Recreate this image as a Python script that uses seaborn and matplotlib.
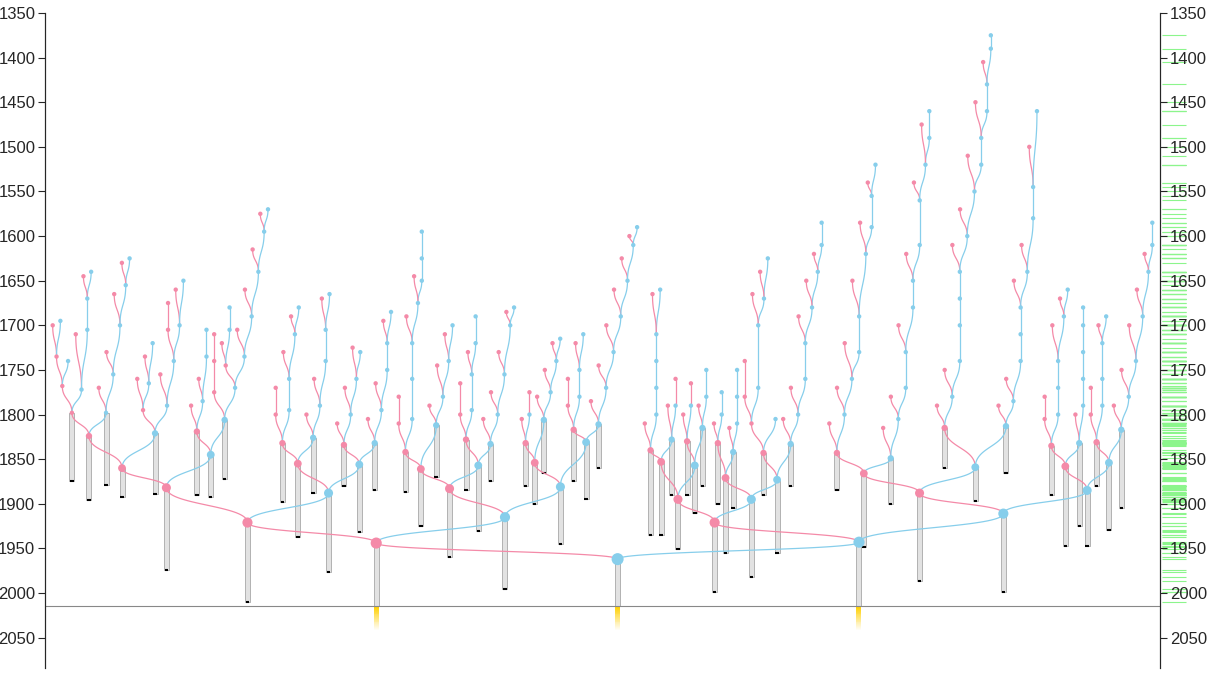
import numpy as np
import pandas as pd
import matplotlib
matplotlib.use('Agg')
import matplotlib.pyplot as plt
import seaborn as sns

# ancestry path from the root: M = mother, F = father ; value = birth year
births = {
    '': 1962, 'M': 1944, 'F': 1943,
    'MM': 1921, 'MF': 1915, 'FM': 1921, 'FF': 1911,
    'MMM': 1882, 'MMF': 1888, 'MFM': 1883, 'MFF': 1881,
    'FMM': 1895, 'FMF': 1895, 'FFM': 1888, 'FFF': 1885,
    'MMMM': 1860, 'MMMF': 1845, 'MMFM': 1855, 'MMFF': 1856,
    'MFMM': 1861, 'MFMF': 1857, 'MFFM': 1854, 'MFFF': 1831,
    'FMMM': 1853, 'FMMF': 1857, 'FMFM': 1871, 'FMFF': 1873,
    'FFMM': 1866, 'FFMF': 1859, 'FFFM': 1858, 'FFFF': 1854,
    'MMMMM': 1824, 'MMMMF': 1821, 'MMMFM': 1819, 'MMMFF': 1806,
    'MMFMM': 1832, 'MMFMF': 1826, 'MMFFM': 1834, 'MMFFF': 1832,
    'MFMMM': 1842, 'MFMMF': 1812, 'MFMFM': 1828, 'MFMFF': 1833,
    'MFFMM': 1832, 'MFFMF': 1806, 'MFFFM': 1817, 'MFFFF': 1811,
    'FMMMM': 1840, 'FMMMF': 1828, 'FMMFM': 1830, 'FMMFF': 1815,
    'FMFMM': 1832, 'FMFMF': 1842, 'FMFFM': 1843, 'FMFFF': 1833,
    'FFMMM': 1843, 'FFMMF': 1849, 'FFMFM': 1815, 'FFMFF': 1813,
    'FFFMM': 1835, 'FFFMF': 1832, 'FFFFM': 1831, 'FFFFF': 1817,
    # region MMMM
    'MMMMMM': 1798, 'MMMMMMM': 1768, 'MMMMMMF': 1772, 'MMMMMMMM': 1735, 'MMMMMMMF': 1740,
    'MMMMMMFM': 1710, 'MMMMMMFF': 1705, 'MMMMMMMMM': 1700, 'MMMMMMMMF': 1695,
    'MMMMMMFFF': 1670, 'MMMMMMFFFF': 1640, 'MMMMMMFFFM': 1645,
    'MMMMMF': 1798, 'MMMMMFM': 1770, 'MMMMMFF': 1755, 'MMMMMFFM': 1730, 'MMMMMFFF': 1700,
    'MMMMMFFFM': 1665, 'MMMMMFFFF': 1655, 'MMMMMFFFFF': 1625, 'MMMMMFFFFM': 1630,
    'MMMMFM': 1795, 'MMMMFF': 1790, 'MMMMFMM': 1760, 'MMMMFMF': 1765, 'MMMMFFM': 1755,
    'MMMMFFF': 1740, 'MMMMFFFM': 1705, 'MMMMFFFF': 1700, 'MMMMFFFFM': 1660, 'MMMMFFFFF': 1650,
    'MMMMFFFMM': 1675, 'MMMMFMFM': 1735, 'MMMMFMFF': 1720,
    # region MMMF
    'MMMFFM': 1775, 'MMMFFF': 1770, 'MMMFFFM': 1745, 'MMMFFFF': 1735, 'MMMFFFFM': 1705,
    'MMMFFFFF': 1690, 'MMMFFFFFM': 1660, 'MMMFFFFFF': 1640, 'MMMFFFFFFM': 1615,
    'MMMFFFFFFF': 1595, 'MMMFFFFFFFM': 1575, 'MMMFFFFFFFF': 1570, 'MMMFFFMM': 1720,
    'MMMFFFMF': 1705, 'MMMFFFMFF': 1680, 'MMMFFMM': 1740, 'MMMFFMMM': 1710,
    'MMMFMM': 1790, 'MMMFMF': 1785, 'MMMFMFM': 1760, 'MMMFMFF': 1735, 'MMMFMFFF': 1705,
    # region MMF
    'MMFMMM': 1800, 'MMFMMF': 1795, 'MMFMMMM': 1770, 'MMFMMFF': 1760, 'MMFMMFFM': 1730,
    'MMFMMFFF': 1710, 'MMFMMFFFF': 1680, 'MMFMMFFFM': 1690, 'MMFMFM': 1800, 'MMFMFF': 1790,
    'MMFMFFM': 1760, 'MMFMFFF': 1740, 'MMFMFFFF': 1705, 'MMFMFFFFM': 1670, 'MMFMFFFFF': 1665,
    'MMFFMM': 1810, 'MMFFMF': 1800, 'MMFFMFM': 1770, 'MMFFMFF': 1760, 'MMFFMFFF': 1730,
    'MMFFMFFM': 1725, 'MMFFFM': 1805, 'MMFFFF': 1795, 'MMFFFFM': 1765, 'MMFFFFF': 1750,
    'MMFFFFFF': 1720, 'MMFFFFFFM': 1695, 'MMFFFFFFF': 1685,
    # region MF
    'MFMMMM': 1810, 'MFMMMF': 1805, 'MFMMMMM': 1780, 'MFMMMFF': 1760, 'MFMMMFFF': 1720,
    'MFMMMFFFM': 1690, 'MFMMMFFFF': 1675, 'MFMMMFFFFF': 1650, 'MFMMMFFFFM': 1645,
    'MFMMMFFFFFF': 1625, 'MFMMMFFFFFFF': 1595,
    'MFMMFM': 1790, 'MFMMFF': 1780, 'MFMMFFM': 1745, 'MFMMFFF': 1740, 'MFMMFFFM': 1710,
    'MFMMFFFF': 1700,
    'MFMFMM': 1800, 'MFMFMF': 1795, 'MFMFMMM': 1765, 'MFMFMFF': 1755, 'MFMFMFFM': 1730,
    'MFMFMFFF': 1720, 'MFMFMFFFF': 1690, 'MFMFFM': 1805, 'MFMFFF': 1800, 'MFMFFFM': 1775,
    'MFMFFFF': 1755, 'MFMFFFFM': 1730, 'MFMFFFFF': 1700, 'MFMFFFFFM': 1685, 'MFMFFFFFF': 1680,
    'MFFMMM': 1805, 'MFFMMF': 1800, 'MFFMMFM': 1775, 'MFFMFM': 1780, 'MFFMFF': 1775,
    'MFFMFFM': 1750, 'MFFMFFF': 1740, 'MFFMFFFM': 1720, 'MFFMFFFF': 1715,
    'MFFFMM': 1790, 'MFFFMF': 1780, 'MFFFMMM': 1760, 'MFFFMFF': 1750, 'MFFFMFFM': 1720,
    'MFFFMFFF': 1710, 'MFFFFM': 1785, 'MFFFFF': 1770, 'MFFFFFM': 1745, 'MFFFFFF': 1730,
    'MFFFFFFM': 1700, 'MFFFFFFF': 1690, 'MFFFFFFFM': 1660, 'MFFFFFFFF': 1650,
    'MFFFFFFFFM': 1625, 'MFFFFFFFFF': 1610, 'MFFFFFFFFFM': 1600, 'MFFFFFFFFFF': 1590,
    # region FM
    'FMMMMM': 1810, 'FMMMMF': 1800, 'FMMMMFF': 1770, 'FMMMMFFF': 1740, 'FMMMMFFFF': 1710,
    'FMMMMFFFFF': 1660, 'FMMMMFFFFM': 1665, 'FMMMFM': 1790, 'FMMMFF': 1790, 'FMMMFFM': 1760,
    'FMMFMM': 1800, 'FMMFMF': 1790, 'FMMFMFM': 1765, 'FMMFFM': 1790, 'FMMFFF': 1780,
    'FMMFFFF': 1750,
    'FMFMMM': 1810, 'FMFMMF': 1800, 'FMFMMFF': 1775, 'FMFMFM': 1815, 'FMFMFF': 1810,
    'FMFMFFF': 1780, 'FMFMFFFF': 1750,
    'FMFFMM': 1810, 'FMFFMF': 1805, 'FMFFMMM': 1780, 'FMFFMMF': 1770, 'FMFFMMMM': 1740,
    'FMFFMMFF': 1700, 'FMFFMMFFF': 1670, 'FMFFMMFFM': 1665, 'FMFFMMFFFF': 1625,
    'FMFFMMFFFM': 1640, 'FMFFFM': 1805, 'FMFFFF': 1800, 'FMFFFFM': 1770, 'FMFFFFF': 1760,
    'FMFFFFFF': 1720, 'FMFFFFFFM': 1690, 'FMFFFFFFF': 1680, 'FMFFFFFFFF': 1640,
    'FMFFFFFFFM': 1650, 'FMFFFFFFFFF': 1610, 'FMFFFFFFFFM': 1620, 'FMFFFFFFFFFF': 1585,
    # region FF
    'FFMMMM': 1810, 'FFMMMF': 1800, 'FFMMMFM': 1770, 'FFMMMFF': 1760, 'FFMMMFFF': 1730,
    'FFMMMFFM': 1720, 'FFMMMFFFF': 1690, 'FFMMMFFFFM': 1650, 'FFMMMFFFFF': 1620,
    'FFMMMFFFFFF': 1590, 'FFMMMFFFFFM': 1585, 'FFMMMFFFFFFF': 1555, 'FFMMMFFFFFFFM': 1540,
    'FFMMMFFFFFFFF': 1520, 'FFMMFM': 1815, 'FFMMFF': 1805, 'FFMMFFM': 1780, 'FFMMFFF': 1770,
    'FFMMFFFF': 1730, 'FFMMFFFFM': 1700, 'FFMMFFFFF': 1680, 'FFMMFFFFFF': 1650,
    'FFMMFFFFFFM': 1620, 'FFMMFFFFFFF': 1610, 'FFMMFFFFFFFF': 1560, 'FFMMFFFFFFFFM': 1540,
    'FFMMFFFFFFFFF': 1520, 'FFMMFFFFFFFFFF': 1490, 'FFMMFFFFFFFFFM': 1475,
    'FFMMFFFFFFFFFFF': 1460,
    'FFMFMM': 1790, 'FFMFMF': 1780, 'FFMFMFM': 1750, 'FFMFMFF': 1740, 'FFMFMFFF': 1700,
    'FFMFMFFFF': 1670, 'FFMFMFFFFF': 1640, 'FFMFMFFFFFM': 1610, 'FFMFMFFFFFF': 1600,
    'FFMFMFFFFFFM': 1570, 'FFMFMFFFFFFF': 1550, 'FFMFMFFFFFFFF': 1520, 'FFMFMFFFFFFFM': 1510,
    'FFMFMFFFFFFFFF': 1490, 'FFMFMFFFFFFFFFF': 1460, 'FFMFMFFFFFFFFFM': 1450,
    'FFMFMFFFFFFFFFFF': 1430, 'FFMFMFFFFFFFFFFFM': 1405, 'FFMFMFFFFFFFFFFFF': 1390,
    'FFMFMFFFFFFFFFFFFF': 1375,
    'FFMFFM': 1790, 'FFMFFF': 1785, 'FFMFFFM': 1760, 'FFMFFFF': 1740, 'FFMFFFFF': 1710,
    'FFMFFFFFF': 1680, 'FFMFFFFFFM': 1650, 'FFMFFFFFFF': 1640, 'FFMFFFFFFFM': 1610,
    'FFMFFFFFFFF': 1580, 'FFMFFFFFFFFF': 1545, 'FFMFFFFFFFFFM': 1500, 'FFMFFFFFFFFFF': 1460,
    'FFFMMM': 1805, 'FFFMMF': 1800, 'FFFMMMM': 1780, 'FFFMMFF': 1770, 'FFFMMFFF': 1740,
    'FFFMMFFFM': 1700, 'FFFMMFFFF': 1690, 'FFFMMFFFFF': 1660, 'FFFMMFFFFM': 1670,
    'FFFMFM': 1800, 'FFFMFF': 1790, 'FFFMFFF': 1760, 'FFFMFFFF': 1730, 'FFFMFFFFF': 1700,
    'FFFMFFFFFF': 1680,
    'FFFFMM': 1800, 'FFFFMF': 1790, 'FFFFMMM': 1770, 'FFFFMFF': 1760, 'FFFFMFFF': 1720,
    'FFFFMFFFM': 1700, 'FFFFMFFFF': 1690, 'FFFFFM': 1790, 'FFFFFF': 1780, 'FFFFFFM': 1750,
    'FFFFFFF': 1740, 'FFFFFFFM': 1700, 'FFFFFFFF': 1690, 'FFFFFFFFM': 1660,
    'FFFFFFFFF': 1640, 'FFFFFFFFFF': 1610, 'FFFFFFFFFM': 1620, 'FFFFFFFFFFF': 1585,
}

# death years (0 = still living)
deaths = {
    '': 0, 'M': 0, 'F': 0,
    'MM': 2010, 'MF': 1995, 'FM': 1999, 'FF': 1999,
    'MMM': 1974, 'MMF': 1976, 'MFM': 1960, 'MFF': 1945,
    'FMM': 1951, 'FMF': 1982, 'FFM': 1986, 'FFF': 1947,
    'MMMM': 1892, 'MMMF': 1892, 'MMFM': 1937, 'MMFF': 1932, 'MFMM': 1925, 'MFMF': 1930,
    'MFFM': 1900, 'MFFF': 1895, 'FMMM': 1935, 'FMMF': 1910, 'FMFM': 1955, 'FMFF': 1955,
    'FFMM': 1948, 'FFMF': 1897, 'FFFM': 1947, 'FFFF': 1929,
    'MMMMM': 1896, 'MMMMF': 1889, 'MMMFM': 1890, 'MMMFF': 1872, 'MMFMM': 1898,
    'MMFMF': 1888, 'MMFFM': 1880, 'MMFFF': 1885, 'MFMMM': 1887, 'MFMMF': 1870,
    'MFMFM': 1885, 'MFMFF': 1875, 'MFFMM': 1880, 'MFFMF': 1865, 'MFFFM': 1875,
    'MFFFF': 1860, 'FMMMM': 1935, 'FMMMF': 1890, 'FMMFM': 1890, 'FMMFF': 1880,
    'FMFMM': 1900, 'FMFMF': 1905, 'FMFFM': 1890, 'FMFFF': 1880, 'FFMMM': 1885,
    'FFMMF': 1900, 'FFMFM': 1860, 'FFMFF': 1865, 'FFFMM': 1890, 'FFFMF': 1925,
    'FFFFM': 1880, 'FFFFF': 1905,
    'MMMMMM': 1874, 'MMMMMF': 1879,
}

PINK = '#f48aa8'
BLUE = '#87ceeb'
TODAY = 2015

# --- layout: leaves evenly spaced, mothers left of fathers ---
nodes = set(births)
xpos = {}
counter = [0]


def place(p):
    kids = [p + c for c in 'MF' if p + c in nodes]
    if not kids:
        xpos[p] = counter[0]
        counter[0] += 1
    else:
        for k in kids:
            place(k)
        xpos[p] = np.mean([xpos[k] for k in kids])


place('')
nleaf = counter[0]

df = pd.DataFrame({
    'path': list(births),
    'year': list(births.values()),
})
df['x'] = df['path'].map(xpos)
df['gen'] = df['path'].str.len()
df['sex'] = np.where(df['path'].str[-1:] == 'M', 'f', 'm')
df['dot'] = np.clip(6 - df['gen'], 0, 6)

sns.set_style('ticks')
plt.rcParams['font.family'] = ['Liberation Sans', 'DejaVu Sans']
fig = plt.figure(figsize=(12.18, 6.86), dpi=100)
ax = fig.add_axes([45 / 1218, 18 / 686, 1115 / 1218, 655 / 686])
ax.set_xlim(-1, nleaf)
ax.set_ylim(2084, 1350)

# birth/death-year rug on the right axis (drawn under the tick labels)
rug = list(births.values()) + [d for d in deaths.values() if d]
ax.hlines(rug, 1.002, 1.023, transform=ax.get_yaxis_transform(),
          color='#8cf58c', lw=0.8, clip_on=False, zorder=0)

# lifespan bars
bw = 5 / 1115 * (nleaf + 1)
for p, d in deaths.items():
    b = births[p]
    end = TODAY if d == 0 else d
    ax.bar(xpos[p], end - b, bottom=b, width=bw, color='#e2e2e2',
           edgecolor='#a8a8a8', linewidth=0.6, zorder=1)
    if d == 0:
        for i in range(26):
            ax.bar(xpos[p], 1, bottom=TODAY + i, width=bw, color='#ffd000',
                   alpha=1 - i / 26, linewidth=0, zorder=1)
    else:
        ax.hlines(d, xpos[p] - bw * 0.35, xpos[p] + bw * 0.35, color='black', lw=1.5, zorder=2)

# parent links
t = np.linspace(0, 1, 40)
for p in births:
    if p == '':
        continue
    c = p[:-1]
    x0, y0, x1, y1 = xpos[c], births[c], xpos[p], births[p]
    ym = (y0 + y1) / 2
    bx = (1 - t) ** 3 * x0 + 3 * (1 - t) ** 2 * t * x0 + 3 * (1 - t) * t ** 2 * x1 + t ** 3 * x1
    by = (1 - t) ** 3 * y0 + 3 * (1 - t) ** 2 * t * ym + 3 * (1 - t) * t ** 2 * ym + t ** 3 * y1
    ax.plot(bx, by, color=PINK if p[-1] == 'M' else BLUE, lw=0.9, zorder=3)

sns.scatterplot(data=df, x='x', y='year', hue='sex', palette={'f': PINK, 'm': BLUE},
                size='dot', sizes=(10, 75), linewidth=0, legend=False, ax=ax, zorder=4)

ax.axhline(TODAY, color='#888888', lw=0.8, zorder=2)

ticks = np.arange(1350, 2051, 50)
ax.set_yticks(ticks)
ax.set_xticks([])
ax.set_xlabel('')
ax.set_ylabel('')
ax.tick_params(axis='y', labelsize=12, length=5, direction='out', pad=2)
for s in ['top', 'bottom']:
    ax.spines[s].set_visible(False)
ax2 = ax.twinx()
ax2.set_ylim(ax.get_ylim())
ax2.set_yticks(ticks)
ax2.tick_params(axis='y', labelsize=12, length=5, direction='out', pad=2)
for s in ['top', 'bottom']:
    ax2.spines[s].set_visible(False)

fig.savefig('out.png', dpi=100)
